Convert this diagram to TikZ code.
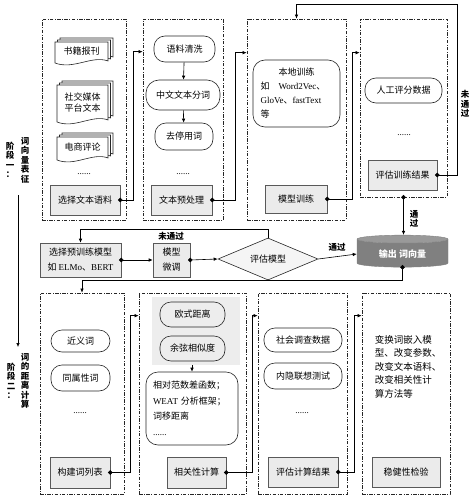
\documentclass[tikz,border=0pt]{standalone}
\usepackage{fontspec}
\setmainfont{Liberation Serif}
\newfontfamily\zhfont{Noto Sans CJK SC}
\usetikzlibrary{arrows.meta,shapes.geometric}

\definecolor{boxgray}{HTML}{EBEBEB}
\definecolor{edgegray}{HTML}{595959}
\definecolor{dbgray}{HTML}{808080}
\definecolor{dbtop}{HTML}{999999}
\definecolor{panelgray}{HTML}{EDEDED}

\tikzset{
  stage/.style={draw=black!85, line width=0.7pt, dash pattern=on 3.5pt off 1.5pt on 0.8pt off 1.5pt, inner sep=0pt},
  graybox/.style={draw=edgegray, fill=boxgray, line width=0.6pt, inner sep=1pt},
  pill/.style={draw=black!85, rounded corners=11pt, line width=0.6pt, inner sep=1pt},
  sheet/.style={draw=black!85, fill=white, line width=0.6pt},
  link/.style={line width=0.6pt, -{Latex[length=4pt,width=3.5pt]}},
  dotlink/.style={line width=0.6pt, {Circle[length=4.5pt]}-{Latex[length=4pt,width=3.5pt]}, shorten <=-2.25pt},
  vlabel/.style={font=\zhfont\bfseries\fontsize{8.5pt}{9.5pt}\selectfont, align=center, inner sep=0pt},
  flag/.style={font=\zhfont\bfseries\fontsize{8.5pt}{10pt}\selectfont, inner sep=0pt},
}

% stack of three paper sheets with a wavy bottom, text on the front one
\newcommand{\docstack}[6]{%
  \foreach \k in {2,1,0}{
    \pgfmathsetmacro\sxl{#2-#4/2+2.5*\k}
    \pgfmathsetmacro\sxr{\sxl+#4}
    \pgfmathsetmacro\syt{#3-#5/2-2*\k}
    \pgfmathsetmacro\syb{\syt+#5}
    \pgfmathsetmacro\cxa{\sxr-0.3*#4}
    \pgfmathsetmacro\cxb{\sxl+0.35*#4}
    \draw[sheet] (\sxl,\syt) -- (\sxr,\syt) -- (\sxr,\syb-2) .. controls (\cxa,\syb-8) and (\cxb,\syb+7) .. (\sxl,\syb) -- cycle;
  }
  \node[align=center, inner sep=0pt] (#1) at (#2,#3-1) {#6};
}

\begin{document}
\begin{tikzpicture}[x=1pt, y=-1pt, font=\zhfont\fontsize{9pt}{11pt}\selectfont]
\useasboundingbox (0,0) rectangle (474,503);

% phase labels
\node[vlabel] (phaseone) at (10,160) {阶\\段\\一\\：};
\node[vlabel] (phaseonename) at (25,160) {词\\向\\量\\表\\征};
\coordinate (flowtop) at (18,195);
\coordinate (flowend) at (18,347);
\draw[link] (flowtop) -- (flowend);
\node[vlabel] (phasetwo) at (11,381) {阶\\段\\二\\：};
\node[vlabel] (phasetwoname) at (25,381) {词\\的\\距\\离\\计\\算};

% stage one
\node[stage, minimum width=84, minimum height=201] (corpus) at (84,119.5) {};
\docstack{books}{81.5}{52.5}{53}{21}{书籍报刊}
\docstack{social}{82.5}{103.5}{51}{37}{社交媒体\\平台文本}
\docstack{ecom}{82.5}{148.5}{51}{23}{电商评论}
\node (dotsA) at (84,174) {\rmfamily ......};
\node[graybox, minimum width=70, minimum height=30] (pickcorpus) at (85,200) {选择文本语料};

\node[stage, minimum width=80, minimum height=201] (preproc) at (183,119.5) {};
\node[pill, minimum width=61, minimum height=26] (clean) at (184.5,49) {语料清洗};
\node[pill, rounded corners=13pt, minimum width=74, minimum height=30] (segment) at (183,95) {中文文本分词};
\node[pill, minimum width=58, minimum height=27] (stopw) at (184,136.5) {去停用词};
\node (dotsB) at (183,174) {\rmfamily ......};
\node[graybox, minimum width=61, minimum height=30] (dopre) at (181.5,200) {文本预处理};
\draw[link] (clean) -- (segment);
\draw[link] (segment) -- (stopw);

\node[stage, minimum width=99, minimum height=201] (training) at (296.5,119.5) {};
\node[pill, rounded corners=12pt, minimum width=87, minimum height=67, text width=72, align=left,
  font=\zhfont\fontsize{9pt}{14pt}\selectfont] (local) at (296.5,93.5)
  {{\centering 本地训练\par}如\quad{\rmfamily Word2Vec}、\\{\rmfamily GloVe}、{\rmfamily fastText}\\等};
\node[graybox, minimum width=62, minimum height=28] (dotrain) at (296,199) {模型训练};

\node[stage, minimum width=87, minimum height=178] (evaltrain) at (403.5,108) {};
\node[pill, minimum width=77, minimum height=25] (manual) at (403.5,90.5) {人工评分数据};
\node (dotsC) at (404,135) {\rmfamily ......};
\node[graybox, minimum width=69, minimum height=30] (checktrain) at (402.5,175) {评估训练结果};

\draw[dotlink] (pickcorpus.east) -- ++(13,0) |- ([yshift=-33pt]preproc.north west);
\draw[dotlink] (dopre.east) -- ++(23,0) |- ([yshift=-34pt]training.north west);
\draw[dotlink] (dotrain.east) -- ++(25,0) |- ([yshift=-34pt]evaltrain.north west);
\draw[dotlink] (checktrain.east) -- ++(20,0) |- ([yshift=14pt]training.north) -- (training.north);
\node[vlabel] (failtrain) at (465,104) {未\\通\\过};

% model choice row
\node[graybox, minimum width=81, minimum height=34, align=center,
  font=\zhfont\fontsize{9pt}{15pt}\selectfont] (pretrained) at (80.5,260)
  {选择预训练模型\\如 {\rmfamily ELMo}、{\rmfamily BERT}};
\node[graybox, minimum width=37, minimum height=34, align=center,
  font=\zhfont\fontsize{9pt}{15pt}\selectfont] (finetune) at (171.5,260) {模型\\微调};
\node[diamond, draw=black!85, fill=gray!8, line width=0.6pt, aspect=2.4, minimum width=100, minimum height=42, inner sep=0pt] (evalmodel) at (268,259) {评估模型};
\node[cylinder, shape border rotate=90, aspect=0.15, draw=dbgray, cylinder uses custom fill,
  cylinder body fill=dbgray, cylinder end fill=dbtop, minimum width=91, minimum height=32,
  text=white, font=\zhfont\bfseries\fontsize{9pt}{11pt}\selectfont] (output) at (402.5,254) {输出\ 词向量};

\draw[dotlink] (evaltrain.south) -- (evaltrain.south |- output.north);
\node[vlabel] (passtrain) at (414,219) {通\\过};
\draw[dotlink] (pretrained.east) -- (finetune.west);
\draw[dotlink] (finetune.east) -- (evalmodel.west);
\draw[link] (evalmodel.east) -- (output.west);
\node[flag] (passmodel) at (337,247) {通过};
\draw[link] (evalmodel.north) -- ++(0,-8) -| (pretrained.north);
\node[flag] (failmodel) at (171,236) {未通过};

% stage two
\node[stage, minimum width=84, minimum height=201] (listing) at (82,393.5) {};
\node[stage, minimum width=107, minimum height=201] (similarity) at (192.5,393.5) {};
\node[stage, minimum width=89, minimum height=201] (evalcalc) at (302.5,393.5) {};
\node[stage, minimum width=88, minimum height=201] (robust) at (406,393.5) {};
\draw[dotlink] (output.south) -- ++(0,13) -| (listing.north);

\node[pill, minimum width=59, minimum height=22] (synonym) at (80.5,341) {近义词};
\node[pill, minimum width=59, minimum height=26] (sameattr) at (80.5,378) {同属性词};
\node (dotsD) at (80,413) {\rmfamily ......};
\node[graybox, minimum width=60, minimum height=31] (buildlist) at (80,472.5) {构建词列表};

\node[fill=panelgray, minimum width=88, minimum height=68] (metricpanel) at (196,331) {};
\node[pill, minimum width=65, minimum height=25] (euclid) at (192.5,314.5) {欧式距离};
\node[pill, minimum width=65, minimum height=25] (cosine) at (192.5,348.5) {余弦相似度};
\node[pill, rounded corners=12pt, minimum width=92, minimum height=73, text width=78, align=left,
  font=\zhfont\fontsize{9pt}{15.5pt}\selectfont] (measures) at (192,408.5)
  {相对范数差函数；\\{\rmfamily WEAT} 分析框架；\\词移距离\\{\rmfamily ......}};
\draw[link] (measures.north |- metricpanel.south) -- (measures.north);
\node[graybox, minimum width=59, minimum height=31] (corrcalc) at (196.5,472.5) {相关性计算};

\node[pill, minimum width=78, minimum height=24] (survey) at (303,340) {社会调查数据};
\node[pill, minimum width=78, minimum height=26] (iat) at (303,376) {内隐联想测试};
\node (dotsE) at (302,413) {\rmfamily ......};
\node[graybox, minimum width=70, minimum height=30] (checkcalc) at (303,472) {评估计算结果};

\node[align=left, inner sep=0pt, font=\zhfont\fontsize{9.5pt}{13.5pt}\selectfont] (variants) at (408,366.5)
  {变换词嵌入模\\型、改变参数、\\改变文本语料、\\改变相关性计\\算方法等};
\node[graybox, minimum width=68, minimum height=30] (robcheck) at (406,472) {稳健性检验};

\draw[dotlink] (buildlist.east) -- ++(20,0) |- ([yshift=-23pt]similarity.north west);
\draw[dotlink] (corrcalc.east) -- ++(26,0) |- ([yshift=-23pt]evalcalc.north west);
\draw[dotlink] (checkcalc.east) -- ++(16,0) |- ([yshift=-23pt]robust.north west);
\end{tikzpicture}
\end{document}
